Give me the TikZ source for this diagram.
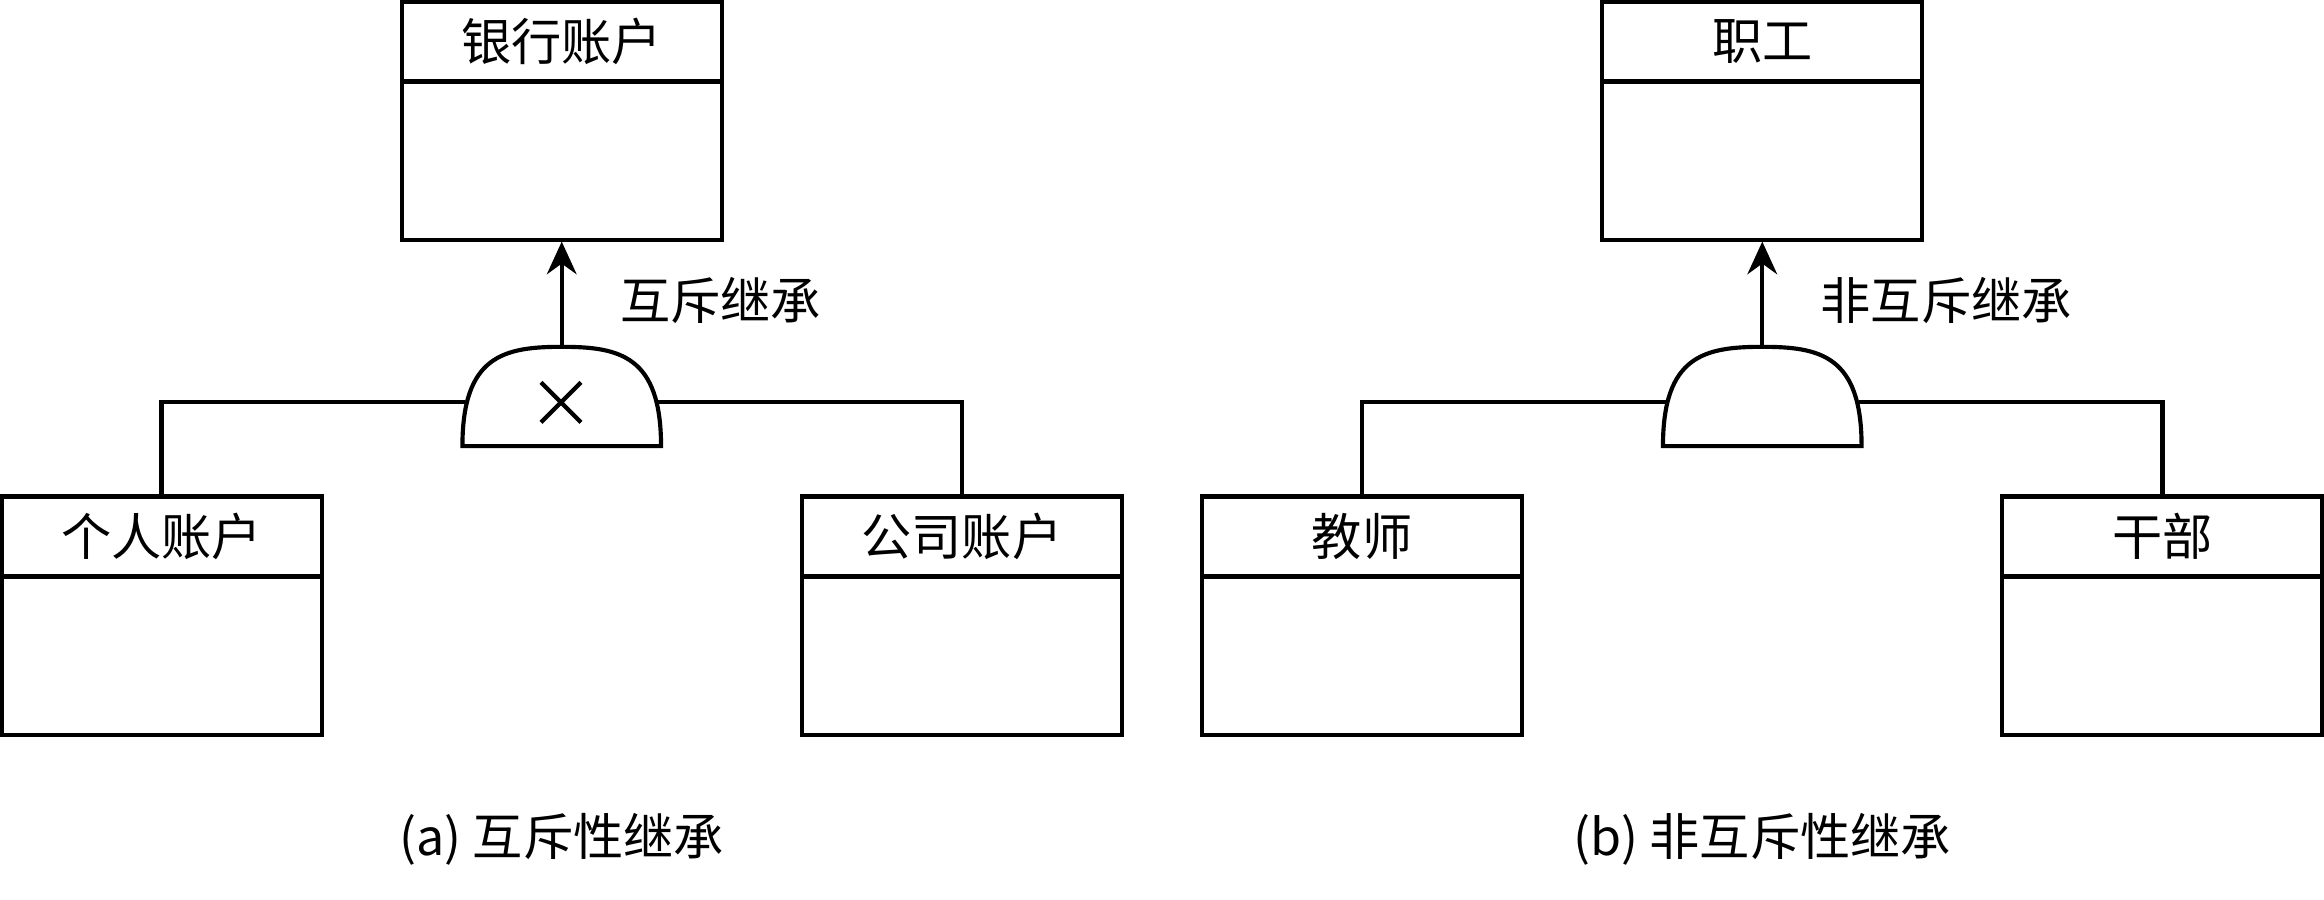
\documentclass[tikz,border=0pt]{standalone}
\usepackage{fontspec}
\setmainfont{Noto Sans CJK SC}
\usetikzlibrary{arrows.meta}
\begin{document}
\begin{tikzpicture}[x=1bp,y=-1bp,line width=2.8bp,
 txt/.style={font=\fontsize{34}{36}\selectfont,inner sep=0},
 cls/.style={draw}]
\useasboundingbox (0,0) rectangle (1568,607);
\foreach \n/\x/\y/\t in {top/271/1/银行账户, la/1/335/个人账户, ra/541/335/公司账户, topb/1081/1/职工, lb/811/335/教师, rb/1351/335/干部}{
  \draw (\x,\y) rectangle ++(216,161);
  \draw (\x,\y+54) -- ++(216,0);
  \node[txt] (\n) at (\x+108,\y+27) {\t};
}
\foreach \g/\cx/\l in {ga/379/互斥继承, gb/1189/非互斥继承}{
  \draw (\cx-67,301) .. controls (\cx-67,240) and (\cx-39,234) .. (\cx,234)
        .. controls (\cx+39,234) and (\cx+67,240) .. (\cx+67,301) -- cycle;
  \coordinate (\g) at (\cx,234);
  \draw[-{Stealth[length=22bp,width=20bp]}] (\cx,234) -- (\cx,163);
  \draw (\cx-65,271) -- (\cx-270,271) -- (\cx-270,335);
  \draw (\cx+65,271) -- (\cx+270,271) -- (\cx+270,335);
  \node[txt,anchor=west] (\g l) at (\cx+38,203) {\l};
}
\draw (365,258) -- (392,285) (392,258) -- (365,285);
\node[txt] (capa) at (379,566) {(a) 互斥性继承};
\node[txt] (capb) at (1189,566) {(b) 非互斥性继承};
\end{tikzpicture}
\end{document}
